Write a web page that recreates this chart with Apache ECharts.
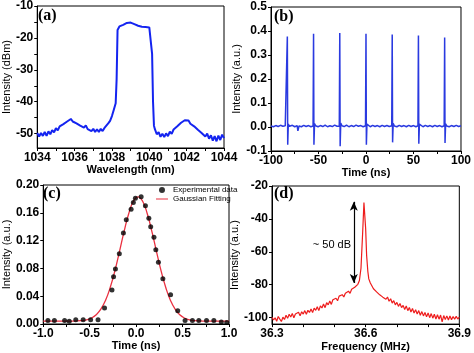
<!DOCTYPE html>
<html>
<head>
<meta charset="utf-8">
<script src="https://cdn.jsdelivr.net/npm/echarts@6/dist/echarts.min.js"></script>
<style>
html, body { margin: 0; background: #fff; }
#main { width: 474px; height: 353px; }
</style>
</head>
<body>
<div id="main"></div>
<script>
// (a) optical spectrum, [wavelength nm, dBm]
var specA = [
    [1034.0, -49.8], [1034.1, -50.9], [1034.2, -49.8], [1034.3, -50.7], [1034.4, -49.5],
    [1034.5, -50.7], [1034.6, -49.3], [1034.7, -50.2], [1034.8, -48.9], [1034.9, -49.6],
    [1035.0, -48.3], [1035.1, -49.0], [1035.2, -47.7], [1035.3, -48.3], [1035.4, -47.0],
    [1035.5, -47.5], [1035.6, -46.2], [1035.7, -46.6], [1035.8, -45.4], [1035.9, -46.2],
    [1036.0, -45.6], [1036.1, -46.8], [1036.2, -46.4], [1036.3, -47.5], [1036.4, -46.9],
    [1036.5, -48.1], [1036.6, -47.4], [1036.7, -48.6], [1036.8, -48.0], [1036.9, -49.2],
    [1037.0, -48.5], [1037.1, -49.5], [1037.2, -48.6], [1037.3, -49.5], [1037.4, -48.5],
    [1037.5, -49.2], [1037.6, -48.2], [1037.7, -48.3], [1037.8, -46.8], [1037.9, -46.0],
    [1038.0, -44.5], [1038.1, -42.5], [1038.2, -40.5], [1038.25, -33.0], [1038.3, -17.5],
    [1038.4, -16.4], [1038.5, -16.2], [1038.6, -15.9], [1038.7, -15.6], [1038.8, -15.3],
    [1038.9, -15.1], [1039.0, -15.2], [1039.1, -15.4], [1039.2, -15.7], [1039.3, -16.0],
    [1039.4, -16.2], [1039.5, -16.4], [1039.6, -16.5], [1039.7, -16.6], [1039.8, -16.6],
    [1039.9, -16.7], [1040.0, -16.7], [1040.1, -17.0], [1040.15, -25.0], [1040.2, -40.0],
    [1040.25, -47.5], [1040.3, -48.6], [1040.4, -50.2], [1040.5, -49.5], [1040.6, -51.0],
    [1040.7, -50.0], [1040.8, -51.1], [1040.9, -49.9], [1041.0, -50.8], [1041.1, -49.4],
    [1041.2, -50.1], [1041.3, -48.7], [1041.4, -49.2], [1041.5, -47.7], [1041.6, -48.0],
    [1041.7, -46.6], [1041.8, -46.8], [1041.9, -45.8], [1042.0, -46.4], [1042.1, -45.9],
    [1042.2, -46.9], [1042.3, -46.6], [1042.4, -47.7], [1042.5, -47.6], [1042.6, -48.8],
    [1042.7, -48.5], [1042.8, -49.8], [1042.9, -49.4], [1043.0, -50.9], [1043.1, -50.0],
    [1043.2, -51.6], [1043.3, -50.5], [1043.4, -52.2], [1043.5, -50.8], [1043.6, -52.4],
    [1043.7, -50.6], [1043.8, -52.0], [1043.9, -50.3], [1044.0, -51.4]
];

// (b) pulse train, [time ns, a.u.]
var trainB = [
    [-100, 0.004], [-97.5, 0.001], [-95, 0.006], [-92.5, 0.002], [-90, 0.007], [-87.5, 0.003],
    [-85, 0.005], [-83.3, 0.002], [-82.8, 0.377], [-82.4, -0.074], [-81.8, 0.012], [-80.5, 0.003],
    [-77.5, 0.007], [-75, 0.001], [-72.5, 0.006], [-71.7, -0.016], [-70.5, 0.004], [-68, 0.001],
    [-65.5, 0.007], [-63, 0.002], [-60.5, 0.006], [-58, 0.001], [-55.7, 0.004], [-55.2, 0.389],
    [-54.8, -0.074], [-54.2, 0.014], [-53, 0.005], [-50.5, 0.001], [-48, 0.006], [-45.5, 0.002],
    [-43, 0.008], [-40.5, 0.001], [-38, 0.005], [-35.5, 0.002], [-33, 0.008], [-30.5, 0.003],
    [-28.1, 0.004], [-27.6, 0.392], [-27.2, -0.080], [-26.6, 0.016], [-25.3, 0.005], [-23, 0.002],
    [-20.5, 0.008], [-18, 0.001], [-15.5, 0.006], [-13, 0.002], [-10.5, 0.008], [-8, 0.003],
    [-5.5, 0.006], [-3, 0.001], [-0.5, 0.005], [0, 0.389], [0.4, -0.074], [1.0, 0.012],
    [2.3, 0.004], [4.5, 0.001], [7, 0.007], [9.5, 0.002], [12, 0.006], [14.5, 0.001],
    [17, 0.007], [19.5, 0.002], [22, 0.006], [24.5, 0.002], [27.1, 0.005], [27.6, 0.385],
    [28.0, -0.064], [28.6, 0.015], [29.9, 0.004], [32.5, 0.001], [35, 0.007], [37.5, 0.002],
    [40, 0.006], [42.5, 0.001], [45, 0.007], [47.5, 0.002], [50, 0.006], [52.5, 0.001],
    [54.7, 0.005], [55.2, 0.381], [55.6, -0.070], [56.2, 0.012], [57.5, 0.004], [60, 0.001],
    [62.5, 0.007], [65, 0.002], [67.5, 0.006], [70, 0.001], [72.5, 0.007], [75, 0.002],
    [77.5, 0.006], [80, 0.001], [82.3, 0.005], [82.8, 0.373], [83.2, -0.067], [83.8, 0.013],
    [85.1, 0.004], [87.5, 0.001], [90, 0.006], [92.5, 0.002], [95, 0.007], [97.5, 0.002],
    [100, 0.005]
];

// (c) single pulse: measured points and Gaussian fit, [time ns, a.u.]
var pulseDots = [
    [-0.95, 0.005], [-0.88, 0.005], [-0.77, 0.005], [-0.72, 0.004], [-0.65, 0.006],
    [-0.57, 0.006], [-0.49, 0.006], [-0.41, 0.006], [-0.34, 0.023], [-0.26, 0.049],
    [-0.243, 0.068], [-0.223, 0.079], [-0.181, 0.101], [-0.137, 0.131], [-0.106, 0.150],
    [-0.054, 0.165], [-0.03, 0.175], [-0.008, 0.181], [0.054, 0.183], [0.10, 0.170],
    [0.137, 0.152], [0.157, 0.140], [0.192, 0.125], [0.212, 0.107], [0.24, 0.089],
    [0.288, 0.065], [0.371, 0.042], [0.448, 0.019], [0.527, 0.005], [0.606, 0.005],
    [0.675, 0.005], [0.758, 0.005], [0.837, 0.005], [0.917, 0.003], [0.976, 0.002]
];
var pulseFit = [
    [-1.0, 0.004], [-0.68, 0.0041], [-0.58, 0.0049], [-0.53, 0.0062], [-0.48, 0.0086],
    [-0.43, 0.0133], [-0.38, 0.0213], [-0.33, 0.0339], [-0.28, 0.0521], [-0.23, 0.0758],
    [-0.18, 0.1038], [-0.13, 0.1329], [-0.08, 0.1587], [-0.03, 0.1766], [0.02, 0.183],
    [0.07, 0.1766], [0.12, 0.1587], [0.17, 0.1329], [0.22, 0.1038], [0.27, 0.0758],
    [0.32, 0.0521], [0.37, 0.0339], [0.42, 0.0213], [0.47, 0.0133], [0.52, 0.0086],
    [0.57, 0.0062], [0.62, 0.0049], [0.72, 0.0041], [1.0, 0.004]
];

// (d) RF spectrum, [MHz, dB]
var rfD = [
    [36.300, -99.8], [36.305, -101.5], [36.310, -100.2], [36.315, -102.3], [36.320, -99.4],
    [36.325, -101.0], [36.330, -102.4], [36.335, -99.8], [36.340, -101.2], [36.345, -98.6],
    [36.350, -100.5], [36.355, -98.0], [36.360, -99.7], [36.365, -97.5], [36.370, -100.1],
    [36.375, -97.8], [36.380, -98.9], [36.385, -96.8], [36.390, -99.0], [36.395, -96.5],
    [36.400, -97.9], [36.405, -95.8], [36.410, -98.0], [36.415, -95.6], [36.420, -96.9],
    [36.425, -94.8], [36.430, -97.0], [36.435, -94.3], [36.440, -95.6], [36.445, -93.4],
    [36.450, -95.8], [36.455, -92.9], [36.460, -94.2], [36.465, -91.8], [36.470, -94.0],
    [36.475, -91.0], [36.480, -92.3], [36.485, -90.0], [36.490, -92.0], [36.495, -89.2],
    [36.500, -90.4], [36.505, -88.3], [36.510, -89.8], [36.515, -87.0], [36.520, -88.2],
    [36.525, -86.1], [36.530, -87.5], [36.535, -85.2], [36.540, -86.0], [36.545, -84.0],
    [36.550, -85.3], [36.555, -82.8], [36.560, -83.6], [36.565, -81.6], [36.570, -81.0],
    [36.575, -79.8], [36.580, -77.5], [36.585, -70.0], [36.590, -50.0], [36.5945, -30.0],
    [36.600, -46.0], [36.603, -62.0], [36.607, -72.0], [36.610, -76.5], [36.615, -79.0],
    [36.620, -80.2], [36.625, -82.5], [36.630, -81.8], [36.635, -84.4], [36.640, -83.5],
    [36.645, -86.2], [36.650, -85.0], [36.655, -87.6], [36.660, -86.4], [36.665, -88.9],
    [36.670, -87.5], [36.675, -90.1], [36.680, -88.6], [36.685, -91.2], [36.690, -89.7],
    [36.695, -92.3], [36.700, -90.8], [36.705, -93.2], [36.710, -91.5], [36.715, -94.0],
    [36.720, -92.6], [36.725, -95.1], [36.730, -93.0], [36.735, -95.8], [36.740, -93.9],
    [36.745, -96.6], [36.750, -94.5], [36.755, -97.3], [36.760, -95.2], [36.765, -97.9],
    [36.770, -95.8], [36.775, -98.6], [36.780, -96.4], [36.785, -99.0], [36.790, -96.9],
    [36.795, -99.6], [36.800, -97.2], [36.805, -100.1], [36.810, -97.6], [36.815, -100.4],
    [36.820, -98.0], [36.825, -100.9], [36.830, -98.3], [36.835, -101.0], [36.840, -98.5],
    [36.845, -102.6], [36.850, -98.8], [36.855, -101.2], [36.860, -99.0], [36.865, -101.5],
    [36.870, -99.1], [36.875, -101.4], [36.880, -99.4], [36.885, -101.0], [36.890, -99.3],
    [36.895, -100.9], [36.900, -99.8]
];
// ~50 dB arrow ends
var arrowD = [[36.562, -29.6], [36.562, -79]];

// tick labels / tick marks
var aXLabels = [1034, 1036, 1038, 1040, 1042, 1044];
var aXTicks = [1034, 1035, 1036, 1037, 1038, 1039, 1040, 1041, 1042, 1043, 1044];
var aYLabels = [-50, -40, -30, -20, -10];
var aYTicks = [-50, -45, -40, -35, -30, -25, -20, -15, -10];
var bXLabels = [-100, -50, 0, 50, 100];
var bXTicks = [-100, -75, -50, -25, 0, 25, 50, 75, 100];
var bYLabels = [-0.1, 0, 0.1, 0.2, 0.3, 0.4, 0.5];
var cXLabels = [-1, -0.5, 0, 0.5, 1];
var cXTicks = [-1, -0.75, -0.5, -0.25, 0, 0.25, 0.5, 0.75, 1];
var cYLabels = [0, 0.04, 0.08, 0.12, 0.16, 0.2];
var dXLabels = [36.3, 36.6, 36.9];
var dXTicks = [36.3, 36.4, 36.5, 36.6, 36.7, 36.8, 36.9];
var dYLabels = [-100, -80, -60, -40, -20];

var FONT = 'Liberation Sans';
// thin bar centred in a 12x6 box, used as the fit-line legend icon
var LINE_ICON = 'path://M0,0L12,0L12,0.01Z M0,2.4L12,2.4L12,3.6L0,3.6Z M0,6L12,6L12,6.01Z';

function axis(gi, min, max, labels, ticks, fmt, name, gap) {
    return {
        type: 'value', gridIndex: gi, min: min, max: max,
        name: name, nameLocation: 'middle', nameGap: gap,
        axisLine: { show: true, onZero: false, lineStyle: { color: '#000', width: 1 } },
        axisTick: { show: true, length: 3, customValues: ticks, lineStyle: { color: '#000' } },
        axisLabel: {
            customValues: labels, formatter: fmt, color: '#000', margin: 4,
            fontSize: 12, fontWeight: 'bold', fontFamily: FONT
        },
        splitLine: { show: false }
    };
}
function xName(a) {
    a.nameTextStyle = { fontSize: 11, fontWeight: 'bold', color: '#000', fontFamily: FONT };
    return a;
}
function yName(a) {
    a.nameTextStyle = { fontSize: 11, color: '#000', fontFamily: FONT };
    return a;
}
function fix(n) { return function (v) { return v.toFixed(n); }; }

var chart = echarts.init(document.getElementById('main'));
chart.setOption({
    animation: false,
    backgroundColor: '#fff',
    grid: [
        { left: 34, top: 6, width: 190, height: 142, show: true, borderColor: '#000', borderWidth: 1 },
        { left: 271, top: 7, width: 194, height: 144, show: true, borderColor: '#000', borderWidth: 1 },
        { left: 35, top: 185, width: 194, height: 139, show: true, borderColor: '#000', borderWidth: 1 },
        { left: 272, top: 186, width: 192, height: 139, show: true, borderColor: '#000', borderWidth: 1 }
    ],
    xAxis: [
        xName(axis(0, 1034, 1044, aXLabels, aXTicks, fix(0), 'Wavelength (nm)', 13)),
        xName(axis(1, -100, 100, bXLabels, bXTicks, fix(0), 'Time (ns)', 13)),
        xName(axis(2, -1, 1, cXLabels, cXTicks, fix(1), 'Time (ns)', 13)),
        xName(axis(3, 36.3, 36.9, dXLabels, dXTicks, fix(1), 'Frequency (MHz)', 13))
    ],
    yAxis: [
        yName(axis(0, -54.5, -10, aYLabels, aYTicks, fix(0), 'Intensity (dBm)', 22)),
        yName(axis(1, -0.1, 0.5, bYLabels, bYLabels, fix(1), 'Intensity (a.u.)', 22)),
        yName(axis(2, 0, 0.2, cYLabels, cYLabels, fix(2), 'Intensity (a.u.)', 28)),
        yName(axis(3, -104, -20, dYLabels, dYLabels, fix(0), 'Intensity (a.u.)', 25))
    ],
    legend: {
        left: 156, top: 186, orient: 'vertical', itemGap: 1,
        itemWidth: 12, itemHeight: 6, padding: 0,
        textStyle: { fontSize: 8, color: '#000', fontFamily: FONT },
        data: [{ name: 'Experimental data', icon: 'circle' }, { name: 'Gaussian Fitting', icon: LINE_ICON }]
    },
    graphic: [
        { type: 'text', left: 38, top: 8, style: { text: '(a)', font: 'bold 16px "Liberation Serif"', fill: '#000' } },
        { type: 'text', left: 274, top: 9, style: { text: '(b)', font: 'bold 16px "Liberation Serif"', fill: '#000' } },
        { type: 'text', left: 43, top: 186, style: { text: '(c)', font: 'bold 16px "Liberation Serif"', fill: '#000' } },
        { type: 'text', left: 274, top: 186, style: { text: '(d)', font: 'bold 16px "Liberation Serif"', fill: '#000' } }
    ],
    series: [
        {
            type: 'line', xAxisIndex: 0, yAxisIndex: 0, data: specA, symbol: 'none',
            lineStyle: { color: '#1424f0', width: 2 }
        },
        {
            type: 'line', xAxisIndex: 1, yAxisIndex: 1, data: trainB, symbol: 'none',
            lineStyle: { color: '#2a3ae0', width: 1.5 }
        },
        {
            name: 'Gaussian Fitting', type: 'line', xAxisIndex: 2, yAxisIndex: 2, data: pulseFit,
            symbol: 'none', smooth: true, lineStyle: { color: '#ea3040', width: 1.3 },
            itemStyle: { color: '#ea3040' }, z: 2
        },
        {
            name: 'Experimental data', type: 'scatter', xAxisIndex: 2, yAxisIndex: 2, data: pulseDots,
            symbolSize: 5, itemStyle: { color: '#000' }, z: 3
        },
        {
            type: 'line', xAxisIndex: 3, yAxisIndex: 3, data: rfD, symbol: 'none',
            lineStyle: { color: '#ee1c1c', width: 1.2 },
            markLine: {
                silent: true, symbol: ['arrow', 'arrow'], symbolSize: [6, 9],
                lineStyle: { color: '#000', width: 1.2, type: 'solid' },
                label: { show: false },
                data: [[{ coord: arrowD[0] }, { coord: arrowD[1] }]]
            },
            markPoint: {
                silent: true, symbol: 'circle', symbolSize: 0,
                label: {
                    show: true, position: 'inside', formatter: '~ 50 dB',
                    color: '#000', fontSize: 11, fontFamily: FONT
                },
                data: [{ coord: [36.492, -55.8] }]
            }
        }
    ]
});
</script>
</body>
</html>
